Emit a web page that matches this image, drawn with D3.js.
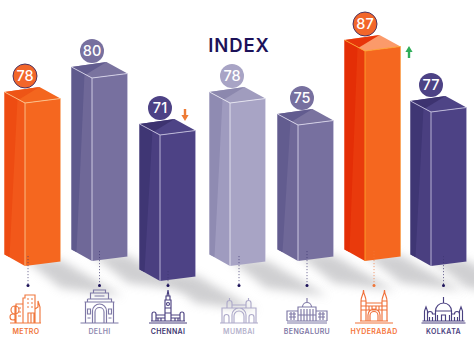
<!DOCTYPE html>
<html>
<head>
<meta charset="utf-8">
<script src="https://cdn.jsdelivr.net/npm/d3@7"></script>
<style>
html, body { margin: 0; padding: 0; background: #fff; }
svg { display: block; font-family: Inter, "Open Sans", sans-serif; }
</style>
</head>
<body>
<svg id="chart" width="474" height="353"></svg>
<script>
const cities = ['METRO', 'DELHI', 'CHENNAI', 'MUMBAI', 'BENGALURU', 'HYDERABAD', 'KOLKATA'];
const scores = [78, 80, 71, 78, 75, 87, 77];
const baseLevels = [1, 0, 2, 1, 0, 0, 1];
const trends = [null, null, 'down', null, null, 'up', null];

const svg = d3.select('#chart');

const palette = {
	METRO: {front: '#f5671f', side: '#f2581a', sideDark: '#ee4c12', top: '#f4661e', topDark: '#ee5516', edge: '#fbc58f', label: '#f0763a', circle: '#f2662a', ring: '#3a2a60', icon: '#f0783e'},
	DELHI: {front: '#77709f', side: '#6f6898', sideDark: '#5f5a8d', top: '#7a739f', topDark: '#625c8f', edge: '#d8d5ea', label: '#8f8ab0', circle: '#77709f', icon: '#7f79a6'},
	CHENNAI: {front: '#4d4285', side: '#4a3f80', sideDark: '#3f3674', top: '#4e4486', topDark: '#3d3370', edge: '#c4c0de', label: '#3d3570', circle: '#4d4285', icon: '#4a4080'},
	MUMBAI: {front: '#a8a4c5', side: '#9f9bbf', sideDark: '#8f8bb2', top: '#a09cbe', topDark: '#8c88ae', edge: '#e8e6f2', label: '#b5b2cc', circle: '#a8a4c5', icon: '#aeaaca'},
	BENGALURU: {front: '#77709f', side: '#6f6898', sideDark: '#625c8f', top: '#7a739f', topDark: '#625c8f', edge: '#d8d5ea', label: '#7f79a6', circle: '#77709f', icon: '#7f79a6'},
	HYDERABAD: {front: '#f5671f', side: '#e93a0c', sideDark: '#e42e06', top: '#fb9a6a', topDark: '#e8350a', edge: '#fca02c', label: '#f5743a', circle: '#f2662a', ring: '#3a2a60', icon: '#f0703a'},
	KOLKATA: {front: '#4d4285', side: '#4a3f80', sideDark: '#3f3674', top: '#4e4486', topDark: '#3d3370', edge: '#c4c0de', label: '#4a4180', circle: '#4d4285', icon: '#4a4080'}
};

// little building drawings, origin on the ground line, y goes up as negative
const icons = {
	METRO: ['M-16,0H15', 'M-3,0V-25H-1V-28H9V0', 'M-10,0V-19H-3', 'M9,-14L12,-16V-22L14,-16V0', 'M1,-24h2M5,-24h2M1,-20h2M5,-20h2M1,-16h2M5,-16h2M-8,-15h3M-8,-11h3M-8,-7h3',
		'M2,0V-10H8V0', 'M5,-10V0', 'M-11,-13m-4,0a4,4 0 1 0 8,0a4,4 0 1 0 -8,0', 'M-11,-17V0', 'M-13,-6m-3,0a3,3 0 1 0 6,0a3,3 0 1 0 -6,0'],
	DELHI: ['M-19,0H19', 'M-14,0V-21H14V0', 'M-15,-21H15', 'M-12,-24H12V-21', 'M-12,-24V-21', 'M-9,-24V-30H9V-24', 'M-6,-30V-33H6V-30', 'M-5,-27H5',
		'M-7,0V-12A7,7 0 0 1 7,-12V0', 'M-4.5,0V-11A4.5,4.5 0 0 1 4.5,-11V0', 'M-12,-14H-9V-9H-12ZM9,-14H12V-9H9Z', 'M-12,-5H-9M9,-5H12'],
	CHENNAI: ['M-19,0H19', 'M-17,-2H17', 'M-3,-2V-23H3V-2', 'M-2,-23V-27H2V-23', 'M-1,-27L0,-33L1,-27', 'M-3,-15H3M-3,-10H3', 'M-1.5,-19a1.5,1.5 0 1 0 3,0a1.5,1.5 0 1 0 -3,0',
		'M-16,-2V-9A2,2 0 0 1 -12,-9V-2', 'M12,-2V-9A2,2 0 0 1 16,-9V-2', 'M-12,-8H-3M3,-8H12', 'M-10,-2V-5M-7,-2V-5M7,-2V-5M10,-2V-5', 'M-12,-5H-3M3,-5H12'],
	MUMBAI: ['M-19,0H19', 'M-17,0V-15H17V0', 'M-17,-15H17', 'M-7,0V-8A7,7 0 0 1 7,-8V0', 'M-5,0V-7A5,5 0 0 1 5,-7V0',
		'M-15,0V-6A2.5,2.5 0 0 1 -10,-6V0', 'M10,0V-6A2.5,2.5 0 0 1 15,-6V0', 'M-12,-15V-20A2.5,2.5 0 0 1 -7,-20V-15', 'M7,-15V-20A2.5,2.5 0 0 1 12,-20V-15', 'M-9.5,-22.5V-25M9.5,-22.5V-25', 'M-7,-18H7'],
	BENGALURU: ['M-20,0H20', 'M-20,-2V-12H-9V-2', 'M9,-2V-12H20V-2', 'M-9,-2V-16H9V-2', 'M-20,-2H20', 'M-4.5,-16A4.5,4.5 0 0 1 4.5,-16', 'M0,-20.5V-25', 'M-18,-9H-11M-18,-6H-11M11,-9H18M11,-6H18',
		'M-16,-11V-3M-13,-11V-3M13,-11V-3M16,-11V-3', 'M-6,-14V-2M-3,-14V-2M0,-14V-2M3,-14V-2M6,-14V-2', 'M-9,-8H9'],
	HYDERABAD: ['M-19,0H19', 'M-14,-2H14', 'M-13,-2V-22M-8,-2V-22M8,-2V-22M13,-2V-22', 'M-13,-22C-13,-27 -10.5,-28 -10.5,-33C-10.5,-28 -8,-27 -8,-22Z', 'M8,-22C8,-27 10.5,-28 10.5,-33C10.5,-28 13,-27 13,-22Z',
		'M-6,-2V-8A6,6 0 0 1 6,-8V-2', 'M-4,-2V-7.5A4,4 0 0 1 4,-7.5V-2', 'M-13,-17H13', 'M-13,-13H13', 'M-8,-20H8', 'M-5,-17V-13M-2,-17V-13M2,-17V-13M5,-17V-13'],
	KOLKATA: ['M-22,0H22', 'M-21,-2H21', 'M-8,-2V-12H8V-2', 'M-8,-12A8,8 0 0 1 8,-12', 'M0,-20V-26', 'M-2,-2V-8H2V-2', 'M-6,-2V-8M6,-2V-8',
		'M-19,-2V-12L-17.5,-16L-16,-12V-2', 'M16,-2V-12L17.5,-16L19,-12V-2', 'M-16,-9A2.5,2.5 0 0 1 -11,-9H-8', 'M8,-9H11A2.5,2.5 0 0 1 16,-9', 'M-14,-2V-6M-11,-2V-6M11,-2V-6M14,-2V-6']
};
const iconNudge = {METRO: -2};

// bar heights in the picture are not proportional to the score, so several stops
const y = d3.scaleLinear()
	.domain([71, 75, 77, 78, 80, 87])
	.range([135, 125, 112, 103, 78, 51]);
const base = d3.scaleOrdinal().domain([0, 1, 2]).range([261, 266, 281]);
const x = d3.scaleOrdinal().domain(cities).range([25, 92, 160, 230, 298, 365, 431]);
const iconX = d3.scaleOrdinal().domain(cities).range([28, 99.5, 168, 239, 307, 374, 443.5]);
const badgeNudge = {MUMBAI: 2, BENGALURU: 4};

const sideW = 20.5, frontW = 35.5, backRise = 16, rightDrop = 4.5;
const groundY = 323;

const defs = svg.append('defs');
defs.append('filter').attr('id', 'blur').attr('x', '-40%').attr('y', '-40%').attr('width', '180%').attr('height', '180%')
	.append('feGaussianBlur').attr('stdDeviation', 5);
defs.append('filter').attr('id', 'soft').attr('x', '-5%').attr('y', '-5%').attr('width', '110%').attr('height', '110%')
	.append('feGaussianBlur').attr('stdDeviation', 0.3);

svg.append('text')
	.attr('x', 239).attr('y', 51.5)
	.attr('text-anchor', 'middle')
	.attr('font-size', 18.5).attr('font-weight', 600).attr('letter-spacing', 0.9)
	.attr('fill', '#1c1259')
	.text('INDEX');

// shadows first so they sit under everything
svg.selectAll('.shadow').data(cities).enter().append('polygon')
	.attr('class', 'shadow')
	.attr('points', (d, i) => {
		let fx = x(d), by = base(baseLevels[i]);
		return [[fx - 2, by - 8], [fx + frontW, by - 6], [fx + frontW + 62, by + 30], [fx + 36, by + 22]].join(' ');
	})
	.attr('fill', '#b0b0b4').attr('opacity', 0.6)
	.attr('filter', 'url(#blur)');

const bars = svg.selectAll('.bar').data(cities).enter().append('g').attr('class', 'bar');

bars.each(function (d, i) {
	let g = d3.select(this), c = palette[d];
	let fx = x(d), top = y(scores[i]), by = base(baseLevels[i]);
	let lx = fx - sideW, rx = fx + frontW;
	let line = d3.line();

	// left face and its darker wedge
	g.append('path').attr('fill', c.side)
		.attr('d', line([[lx, top - 11], [fx, top], [fx, by], [lx, by - 11.5]]) + 'Z');
	g.append('path').attr('fill', c.sideDark)
		.attr('d', line([[lx, top - 11], [lx + 13, top - 4], [lx + 5, by - 9], [lx, by - 11.5]]) + 'Z');
	// right face
	g.append('path').attr('fill', c.front)
		.attr('d', line([[fx, top], [rx, top - rightDrop], [rx, by - rightDrop], [fx, by]]) + 'Z');
	// top
	g.append('path').attr('fill', c.top)
		.attr('d', line([[lx, top - 11], [lx + 35, top - backRise], [rx, top - rightDrop], [fx, top]]) + 'Z');
	g.append('path').attr('fill', c.topDark)
		.attr('d', line([[lx, top - 11], [lx + 35, top - backRise], [fx - 6, top - 3.5]]) + 'Z');
	// light edges
	g.append('path').attr('fill', 'none').attr('stroke', c.edge).attr('stroke-width', 0.9)
		.attr('d', line([[lx, top - 11], [fx, top], [rx, top - rightDrop]]) + line([[fx, top], [fx, by]]));
	g.append('line').attr('x1', rx).attr('x2', rx).attr('y1', top - rightDrop).attr('y2', by - rightDrop)
		.attr('stroke', c.edge).attr('stroke-width', 0.6).attr('opacity', 0.7);

	// badge
	let cx = fx + (badgeNudge[d] || 0), cy = top - 27;
	g.append('circle').attr('cx', cx).attr('cy', cy).attr('r', 12)
		.attr('fill', c.circle).attr('stroke', c.ring || 'none').attr('stroke-width', c.ring ? 0.9 : 0);
	g.append('text').attr('x', cx).attr('y', cy + 5.2).attr('text-anchor', 'middle')
		.attr('font-size', 14.5).attr('font-weight', 500).attr('fill', '#fff').text(scores[i]);
});

// dotted leaders
svg.selectAll('.leader').data(cities).enter().append('line')
	.attr('class', 'leader')
	.attr('x1', d => iconX(d)).attr('x2', d => iconX(d))
	.attr('y1', (d, i) => base(baseLevels[i]) - 10).attr('y2', 285)
	.attr('stroke', d => d === 'HYDERABAD' ? '#f0763a' : '#3d3570')
	.attr('stroke-width', 0.9).attr('stroke-dasharray', '1.2 1.8').attr('opacity', 0.75);
svg.selectAll('.dot').data(cities).enter().append('circle')
	.attr('class', 'dot')
	.attr('cx', d => iconX(d)).attr('cy', 285.5).attr('r', 1.5)
	.attr('fill', d => d === 'HYDERABAD' ? '#f0763a' : '#1c1259');

// trend arrows
const arrowPath = 'M-1.2,-6H1.2V0H3.6L0,6L-3.6,0H-1.2Z';
trends.forEach((t, i) => {
	if (!t) return;
	let d = cities[i], ax, ay;
	if (t === 'up') { ax = x(d) + frontW + 8.5; ay = y(scores[i]) + 1; }
	else { ax = x(d) + frontW - 10.5; ay = y(scores[i]) - 20; }
	svg.append('path').attr('d', arrowPath)
		.attr('transform', `translate(${ax},${ay})` + (t === 'up' ? ' scale(1,-1)' : ''))
		.attr('fill', t === 'up' ? '#2fae5a' : '#ee7b35');
});

// building icons
svg.selectAll('.icon').data(cities).enter().append('path')
	.attr('class', 'icon')
	.attr('transform', d => `translate(${iconX(d) + (iconNudge[d] || 0)},${groundY})`)
	.attr('d', d => icons[d].join(''))
	.attr('fill', 'none')
	.attr('stroke', d => palette[d].icon)
	.attr('stroke-width', 1.15)
	.attr('filter', 'url(#soft)');

// city labels
svg.selectAll('.city').data(cities).enter().append('text')
	.attr('class', 'city')
	.attr('x', d => iconX(d) - (d === 'METRO' ? 2 : 0)).attr('y', 333.5)
	.attr('text-anchor', 'middle')
	.attr('font-size', 7).attr('font-weight', 600).attr('letter-spacing', 0.35)
	.attr('fill', d => palette[d].label)
	.text(d => d);
</script>
</body>
</html>
